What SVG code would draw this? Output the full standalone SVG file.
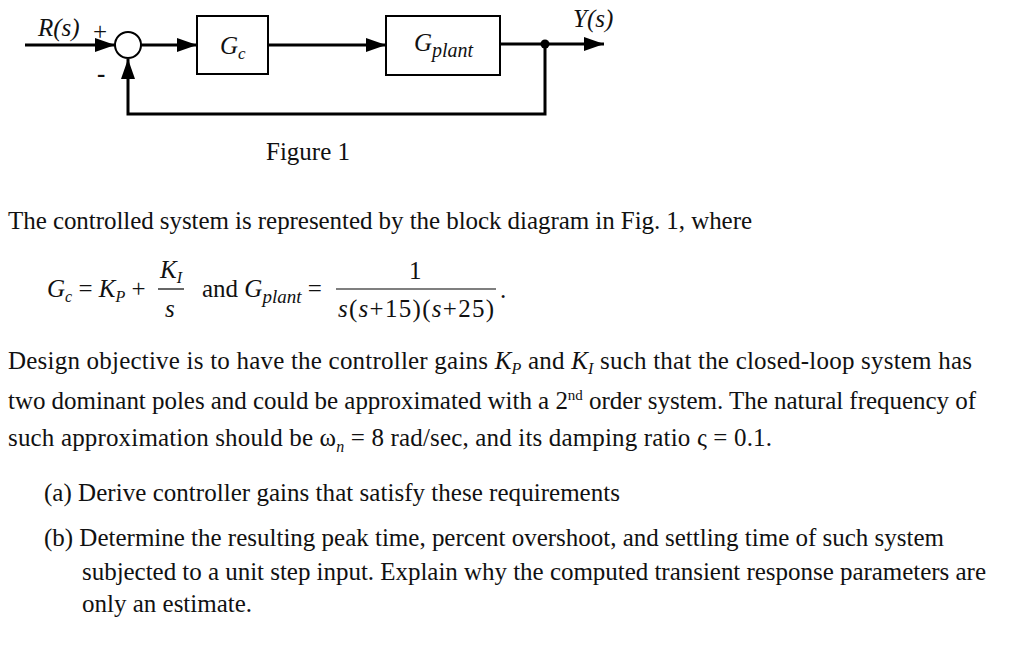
<svg xmlns="http://www.w3.org/2000/svg" width="1024" height="664" viewBox="0 0 1024 664">
<style>
.t{font-family:"Liberation Serif",serif;font-size:25px;fill:#111}
.d{font-family:"Liberation Serif",serif;font-size:25px;fill:#111;font-style:italic}
.w{stroke:#000;stroke-width:3;fill:none}
.b{stroke:#000;stroke-width:2;fill:#fff}
</style>
<defs>
<marker id="a2" viewBox="0 0 20 14" refX="20" refY="7" markerWidth="20" markerHeight="14" orient="auto" markerUnits="userSpaceOnUse"><path d="M0,0L20,7L0,14z" fill="#000"/></marker></defs>
<rect width="1024" height="664" fill="#fff"/>
<g id="connectors">
<path class="w" d="M25,45H115" marker-end="url(#a2)"/>
<path class="w" d="M141,45H197" marker-end="url(#a2)"/>
<path class="w" d="M268,45H386" marker-end="url(#a2)"/>
<path class="w" d="M500,44H604" marker-end="url(#a2)"/>
<path class="w" d="M545,44V114H128V59" marker-end="url(#a2)"/>
<circle cx="545" cy="44" r="4.5" fill="#000"/>
</g>
<g id="sum"><circle class="b" cx="128" cy="45" r="13"/></g>
<g id="gc"><rect class="b" x="197" y="16" width="71" height="58"/><text class="d" x="220" y="54" font-size="27">G<tspan font-size="17" dy="5">c</tspan></text></g>
<g id="gplant"><rect class="b" x="386" y="16" width="114" height="59"/><text class="d" x="414" y="51" font-size="27">G<tspan font-size="20" dy="6">plant</tspan></text></g>
<text class="d" x="38" y="36">R(s)</text>
<text class="t" x="93" y="40" font-size="26">+</text>
<text class="t" x="97" y="82" font-size="30" font-weight="bold">-</text>
<text class="d" x="573" y="27">Y(s)</text>
<text class="t" x="266" y="160">Figure 1</text>
<text class="t" x="8" y="229" textLength="744">The controlled system is represented by the block diagram in Fig. 1, where</text>
<text class="d" x="47" y="297">G<tspan font-size="16" dy="5">c</tspan><tspan dy="-5" font-style="normal"> = </tspan>K<tspan font-size="16" dy="5">P</tspan><tspan dy="-5" font-style="normal"> +</tspan></text>
<text class="d" x="160" y="278">K<tspan font-size="16" dy="5">I</tspan></text>
<line x1="158" y1="289" x2="184" y2="289" stroke="#000" stroke-width="1.2"/>
<text class="d" x="165" y="317">s</text>
<text class="t" x="202" y="297">and <tspan font-style="italic">G</tspan><tspan font-style="italic" font-size="19" dy="6">plant</tspan><tspan dy="-6"> =</tspan></text>
<text class="t" x="409" y="279">1</text>
<line x1="336" y1="289" x2="496" y2="289" stroke="#000" stroke-width="1.2"/>
<text class="t" x="338" y="317" textLength="156"><tspan font-style="italic">s</tspan>(<tspan font-style="italic">s</tspan>+15)(<tspan font-style="italic">s</tspan>+25)</text>
<text class="t" x="500" y="298">.</text>
<text class="t" x="8" y="369" textLength="964">Design objective is to have the controller gains  <tspan font-style="italic">K</tspan><tspan font-style="italic" font-size="16" dy="5">P</tspan><tspan dy="-5">  and  </tspan><tspan font-style="italic">K</tspan><tspan font-style="italic" font-size="16" dy="5">I</tspan><tspan dy="-5">   such that the closed-loop system has</tspan></text>
<text class="t" x="8" y="409" textLength="968">two dominant poles and could be approximated with a 2<tspan font-size="15" dy="-9">nd</tspan><tspan dy="9"> order system. The natural frequency of</tspan></text>
<text class="t" x="8" y="446" textLength="764">such approximation should be  ω<tspan font-style="italic" font-size="16" dy="6">n</tspan><tspan dy="-6"> = 8 rad/sec, and its damping ratio  ς = 0.1.</tspan></text>
<text class="t" x="44" y="501" textLength="576">(a) Derive controller gains that satisfy these requirements</text>
<text class="t" x="44" y="546" textLength="900">(b) Determine the resulting peak time, percent overshoot, and settling time of such system</text>
<text class="t" x="82" y="580" textLength="904">subjected to a unit step input. Explain why the computed transient response parameters are</text>
<text class="t" x="82" y="612">only an estimate.</text>
</svg>
